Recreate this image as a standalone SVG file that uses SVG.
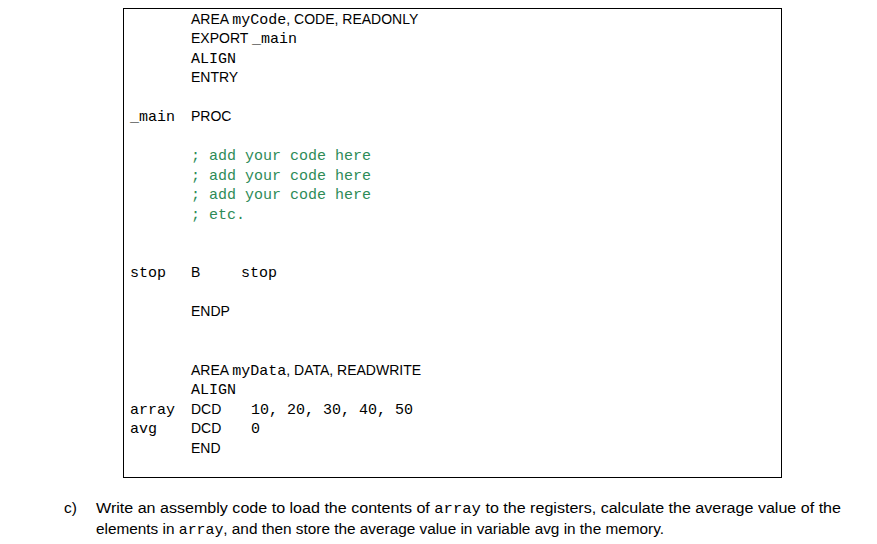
<svg xmlns="http://www.w3.org/2000/svg" width="877" height="544" viewBox="0 0 877 544">
<style>
.m{font-family:"Liberation Mono","DejaVu Sans Mono",monospace;font-size:15px;fill:#000}
.s{font-family:"Liberation Sans",Arial,sans-serif;font-size:14px;fill:#000}
.c{fill:#2e8b57}
.b{font-family:"Liberation Sans",Arial,sans-serif;font-size:15.5px;fill:#000}
</style>
<rect width="877" height="544" fill="#fff"/>
<rect x="123.5" y="8.5" width="658" height="469" fill="none" stroke="#000" stroke-width="1"/>
<g>
<text x="191" y="24" class="s">AREA <tspan class="m">myCode</tspan>, CODE, READONLY</text>
<text x="191" y="43" class="s">EXPORT <tspan class="m">_main</tspan></text>
<text x="191" y="63" class="m">ALIGN</text>
<text x="191" y="82" class="s">ENTRY</text>
<text x="130" y="121" class="m">_main</text>
<text x="191" y="121" class="s">PROC</text>
<text x="191" y="160" class="m c">; add your code here</text>
<text x="191" y="180" class="m c">; add your code here</text>
<text x="191" y="199" class="m c">; add your code here</text>
<text x="191" y="219" class="m c">; etc.</text>
<text x="130" y="277" class="m">stop</text>
<text x="191" y="277" class="s">B</text>
<text x="241" y="277" class="m">stop</text>
<text x="191" y="316" class="s">ENDP</text>
<text x="191" y="375" class="s">AREA <tspan class="m">myData</tspan>, DATA, READWRITE</text>
<text x="191" y="394" class="m">ALIGN</text>
<text x="130" y="414" class="m">array</text>
<text x="191" y="414" class="s">DCD</text>
<text x="251" y="414" class="m">10, 20, 30, 40, 50</text>
<text x="130" y="433" class="m">avg</text>
<text x="191" y="433" class="s">DCD</text>
<text x="251" y="433" class="m">0</text>
<text x="191" y="453" class="s">END</text>
</g>
<text x="64" y="513" class="b">c)</text>
<text x="96" y="513" class="b" textLength="745" lengthAdjust="spacingAndGlyphs">Write an assembly code to load the contents of <tspan class="m">array</tspan> to the registers, calculate the average value of the</text>
<text x="96" y="534" class="b" textLength="568" lengthAdjust="spacingAndGlyphs">elements in <tspan class="m">array</tspan>, and then store the average value in variable avg in the memory.</text>
</svg>
